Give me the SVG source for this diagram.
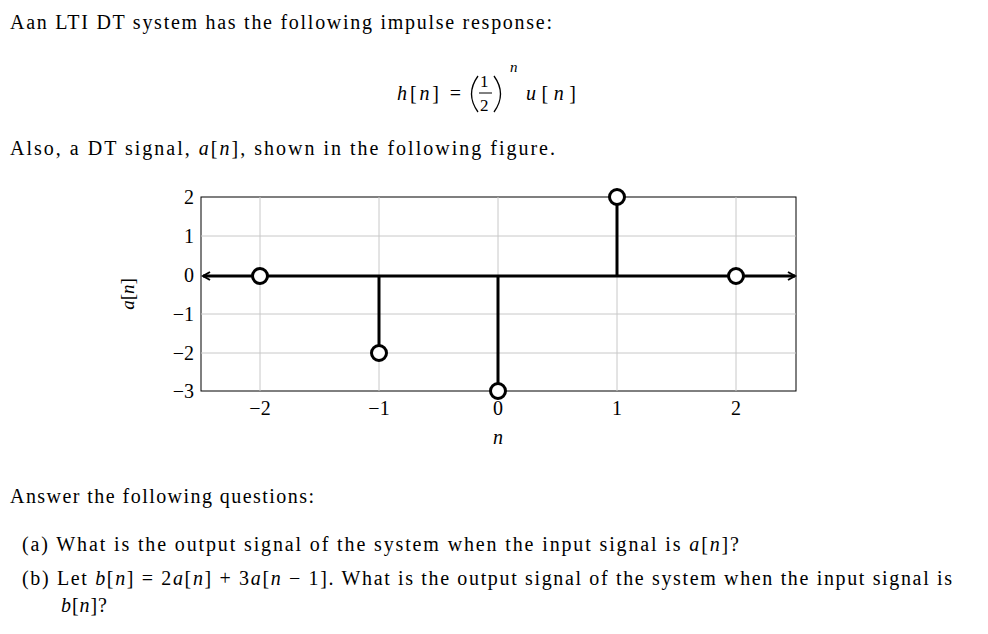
<svg xmlns="http://www.w3.org/2000/svg" width="988" height="634" viewBox="0 0 988 634">
<style>
text{font-family:"Liberation Serif","DejaVu Serif",serif;font-size:20px;fill:#000}
.m{font-style:italic}
.g{stroke:#c8c8c8;stroke-width:1}
.s{stroke:#000;stroke-width:3}
.c{fill:#fff;stroke:#000;stroke-width:3}
</style>
<defs><marker id="ah" markerWidth="10" markerHeight="10" refX="8" refY="5" orient="auto-start-reverse" markerUnits="userSpaceOnUse"><path d="M1,1 L8,5 L1,9" fill="none" stroke="#000" stroke-width="2"/></marker></defs>
<text x="10" y="29" textLength="542" lengthAdjust="spacing">Aan LTI DT system has the following impulse response:</text>
<g id="formula">
<text x="397" y="100" textLength="64" lengthAdjust="spacing"><tspan class="m">h</tspan>[<tspan class="m">n</tspan>] =</text>
<path d="M478,76 Q465,94 478,112" fill="none" stroke="#000" stroke-width="1.3"/>
<text x="480" y="87" style="font-size:17px">1</text>
<line x1="479" y1="93" x2="492" y2="93" stroke="#000" stroke-width="1"/>
<text x="480" y="111" style="font-size:17px">2</text>
<path d="M494,76 Q507,94 494,112" fill="none" stroke="#000" stroke-width="1.3"/>
<text x="510" y="72" class="m" style="font-size:15px">n</text>
<text x="526" y="100" textLength="50" lengthAdjust="spacing"><tspan class="m">u</tspan>[<tspan class="m">n</tspan>]</text>
</g>
<text x="10" y="155" textLength="545" lengthAdjust="spacing">Also, a DT signal, <tspan class="m">a</tspan>[<tspan class="m">n</tspan>], shown in the following figure.</text>
<g id="plot">
<rect x="201" y="197" width="595" height="194" fill="none" stroke="#000" stroke-width="1"/>
<g class="g">
<line x1="260" y1="197" x2="260" y2="391"/><line x1="379" y1="197" x2="379" y2="391"/><line x1="498" y1="197" x2="498" y2="391"/><line x1="617" y1="197" x2="617" y2="391"/><line x1="736" y1="197" x2="736" y2="391"/>
<line x1="201" y1="236" x2="796" y2="236"/><line x1="201" y1="314" x2="796" y2="314"/><line x1="201" y1="353" x2="796" y2="353"/>
</g>
<g style="font-size:19px" text-anchor="end">
<text x="194" y="204">2</text><text x="194" y="243">1</text><text x="194" y="282">0</text>
<text x="194" y="321">−1</text><text x="194" y="360">−2</text><text x="194" y="398">−3</text>
</g>
<g style="font-size:19px" text-anchor="middle">
<text x="260" y="415">−2</text><text x="379" y="415">−1</text><text x="498" y="415">0</text><text x="617" y="415">1</text><text x="736" y="415">2</text>
<text x="498" y="444" class="m">n</text>
</g>
<text transform="translate(134,294) rotate(-90)" text-anchor="middle" style="font-size:19px"><tspan class="m">a</tspan>[<tspan class="m">n</tspan>]</text>
</g>
<g id="connectors">
<line x1="203" y1="276" x2="795" y2="276" class="s" marker-start="url(#ah)" marker-end="url(#ah)"/>
<line x1="379" y1="276" x2="379" y2="353" class="s"/>
<line x1="498" y1="276" x2="498" y2="391" class="s"/>
<line x1="617" y1="276" x2="617" y2="197" class="s"/>
</g>
<g id="stems">
<circle cx="260" cy="276" r="7.5" class="c"/><circle cx="379" cy="353" r="7.5" class="c"/><circle cx="498" cy="391" r="7.5" class="c"/><circle cx="617" cy="197" r="7.5" class="c"/><circle cx="736" cy="276" r="7.5" class="c"/>
</g>
<text x="10" y="503" textLength="304" lengthAdjust="spacing">Answer the following questions:</text>
<text x="22" y="551" textLength="717" lengthAdjust="spacing">(a)  What is the output signal of the system when the input signal is <tspan class="m">a</tspan>[<tspan class="m">n</tspan>]?</text>
<text x="22" y="585" textLength="930" lengthAdjust="spacing">(b)  Let <tspan class="m">b</tspan>[<tspan class="m">n</tspan>] = 2<tspan class="m">a</tspan>[<tspan class="m">n</tspan>] + 3<tspan class="m">a</tspan>[<tspan class="m">n</tspan> − 1]. What is the output signal of the system when the input signal is</text>
<text x="61" y="612" textLength="46" lengthAdjust="spacing"><tspan class="m">b</tspan>[<tspan class="m">n</tspan>]?</text>
</svg>
